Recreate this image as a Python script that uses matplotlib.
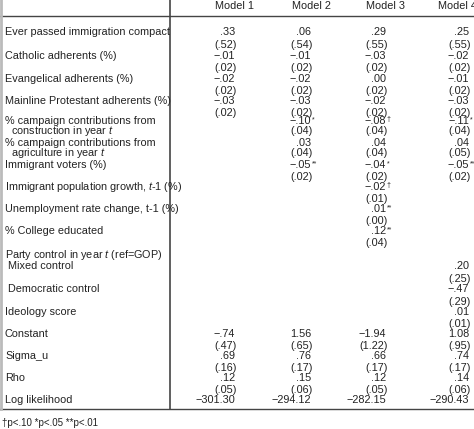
import matplotlib.pyplot as plt

plt.rcParams['font.family'] = ['Liberation Sans', 'DejaVu Sans']
plt.rcParams['mathtext.fontset'] = 'custom'
plt.rcParams['mathtext.it'] = 'Liberation Sans:italic'
plt.rcParams['mathtext.rm'] = 'Liberation Sans'

headers = ['Model 1', 'Model 2', 'Model 3', 'Model 4']

# label rows: (text, y pixel)
labels = [
    ('Ever passed immigration compact', 32),
    ('Catholic adherents (%)', 56),
    ('Evangelical adherents (%)', 79),
    ('Mainline Protestant adherents (%)', 101),
    ('% campaign contributions from', 121),
    ('  construction in year $\\it{t}$', 131),
    ('% campaign contributions from', 143),
    ('  agriculture in year $\\it{t}$', 153),
    ('Immigrant voters (%)', 165),
    ('Immigrant population growth, $\\it{t}$-1 (%)', 187),
    ('Unemployment rate change, t-1 (%)', 209),
    ('% College educated', 231),
    ('Party control in year $\\it{t}$ (ref=GOP)', 255),
    (' Mixed control', 266),
    (' Democratic control', 289),
    ('Ideology score', 312),
    ('Constant', 334),
    ('Sigma_u', 356),
    ('Rho', 378),
    ('Log likelihood', 400),
]

M = '\u2212'
# each cell: (value, stars, y)
model1 = [('.33', '', 32), ('(.52)', '', 45), (M + '.01', '', 56), ('(.02)', '', 68),
          (M + '.02', '', 79), ('(.02)', '', 91), (M + '.03', '', 101), ('(.02)', '', 113),
          (M + '.74', '', 334), ('(.47)', '', 346), ('.69', '', 356), ('(.16)', '', 368),
          ('.12', '', 378), ('(.05)', '', 390), (M + '301.30', '', 400)]
model2 = [('.06', '', 32), ('(.54)', '', 45), (M + '.01', '', 56), ('(.02)', '', 68),
          (M + '.02', '', 79), ('(.02)', '', 91), (M + '.03', '', 101), ('(.02)', '', 113),
          (M + '.10', '*', 121), ('(.04)', '', 131), ('.03', '', 143), ('(.04)', '', 153),
          (M + '.05', '**', 165), ('(.02)', '', 177),
          ('1.56', '', 334), ('(.65)', '', 346), ('.76', '', 356), ('(.17)', '', 368),
          ('.15', '', 378), ('(.06)', '', 390), (M + '294.12', '', 400)]
model3 = [('.29', '', 32), ('(.55)', '', 45), (M + '.03', '', 56), ('(.02)', '', 68),
          ('.00', '', 79), ('(.02)', '', 91), (M + '.02', '', 101), ('(.02)', '', 113),
          (M + '.08', '\u2020', 121), ('(.04)', '', 131), ('.04', '', 143), ('(.04)', '', 153),
          (M + '.04', '*', 165), ('(.02)', '', 177), (M + '.02', '\u2020', 187), ('(.01)', '', 199),
          ('.01', '**', 209), ('(.00)', '', 221), ('.12', '**', 231), ('(.04)', '', 243),
          (M + '1.94', '', 334), ('(1.22)', '', 346), ('.66', '', 356), ('(.17)', '', 368),
          ('.12', '', 378), ('(.05)', '', 390), (M + '282.15', '', 400)]
model4 = [('.25', '', 32), ('(.55)', '', 45), (M + '.02', '', 56), ('(.02)', '', 68),
          (M + '.01', '', 79), ('(.02)', '', 91), (M + '.03', '', 101), ('(.02)', '', 113),
          (M + '.11', '*', 121), ('(.04)', '', 131), ('.04', '', 143), ('(.05)', '', 153),
          (M + '.05', '**', 165), ('(.02)', '', 177),
          ('.20', '', 266), ('(.25)', '', 279), (M + '.47', '', 289), ('(.29)', '', 302),
          ('.01', '', 312), ('(.01)', '', 324),
          ('1.08', '', 334), ('(.95)', '', 346), ('.74', '', 356), ('(.17)', '', 368),
          ('.14', '', 378), ('(.06)', '', 390), (M + '290.43', '', 400)]

models = [model1, model2, model3, model4]
col_right = [237, 313, 388, 471]
head_x = [235, 311, 386, 457]

fig = plt.figure(figsize=(4.74, 4.29), dpi=100)
ax = fig.add_axes([0, 0, 1, 1])
ax.set_xlim(0, 474)
ax.set_ylim(429, 0)
ax.axis('off')

fs = 7.8
col = '#222222'
for x, h in zip(head_x, headers):
    ax.text(x, 6, h, ha='center', va='center', fontsize=fs, color=col)
for txt, y in labels:
    ax.text(5, y, txt, ha='left', va='center', fontsize=fs, color=col)
for xr, cells in zip(col_right, models):
    for v, s, y in cells:
        pad = 1.5 if v.startswith('(') else 0
        ax.text(xr - 2 + pad, y, v, ha='right', va='center', fontsize=fs, color=col)
        if s:
            ax.text(xr - 1.5, y - 1.5, s, ha='left', va='center', fontsize=5, color=col)

ax.plot([0, 474], [16, 16], color='#444444', lw=1.0)
ax.plot([0, 474], [409, 409], color='#444444', lw=1.0)
ax.plot([170, 170], [0, 409], color='#444444', lw=1.2)
ax.plot([1, 1], [0, 409], color='#bbbbbb', lw=2)
ax.text(2, 423, '\u2020p<.10 *p<.05 **p<.01', ha='left', va='center', fontsize=7, color=col)

fig.savefig('out.png', dpi=100, facecolor='white')
